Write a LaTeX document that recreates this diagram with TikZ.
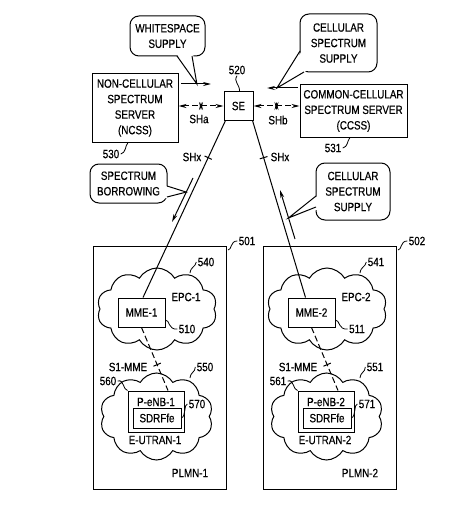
\documentclass[tikz,border=0pt]{standalone}
\usepackage{fontspec}
\setmainfont{Liberation Sans}[FakeStretch=0.82,FakeBold=0.5]
\usetikzlibrary{shapes.symbols,arrows.meta,decorations.markings}

\begin{document}
\begin{tikzpicture}[x=1pt, y=-1pt, line width=1pt,
        font=\fontsize{12}{15.5}\selectfont,
        box/.style={draw, align=center, inner sep=2pt},
        bubble/.style={draw, rounded corners=9pt, align=center},
        puff/.style={draw, cloud, cloud puffs=10, cloud puff arc=120, cloud ignores aspect},
        tag/.style={inner sep=1pt},
        lead/.style={line width=0.8pt},
        arr/.style={-{Stealth[length=8pt,width=4pt]}},
        twoarr/.style={{Stealth[length=8pt,width=4pt]}-{Stealth[length=8pt,width=4pt]}},
        dsh/.style={dash pattern=on 6pt off 3pt},
        crossed/.style={postaction={decorate, decoration={markings,
            mark=at position #1 with {\draw[solid] (0,-4pt) -- (0,4pt);}}}}]
    \useasboundingbox (0,0) rectangle (474,532);

    \node[box, minimum width=29pt, minimum height=28pt] (se) at (238.5,106) {SE};
    \node[tag] (n520) at (237,70) {520};
    \draw[lead] (n520.south) .. controls (233,82) and (240,84) .. ([xshift=1pt]se.north);
    \node[box, minimum width=86pt, minimum height=68pt] (ncss) at (135,108)
        {NON-CELLULAR\\SPECTRUM\\SERVER\\(NCSS)};
    \node[tag] (n530) at (111,154) {530};
    \draw[lead] (n530.east) .. controls (126,153) and (125,146) .. ([xshift=-7pt]ncss.south);
    \node[box, minimum width=107pt, minimum height=52pt] (ccss) at (353.5,111)
        {COMMON-CELLULAR\\SPECTRUM SERVER\\(CCSS)};
    \node[tag] (n531) at (333,148) {531};
    \draw[lead] (n531.east) .. controls (348,147) and (347,141) .. ([xshift=-3.5pt]ccss.south);

    \draw[twoarr, dsh, crossed=0.5] (ncss.east |- se.west) -- (se.west);
    \node[tag] (sha) at (199,119) {SHa};
    \draw[twoarr, dsh, crossed=0.5] (se.east) -- (se.east -| ccss.west);
    \node[tag] (shb) at (278,120) {SHb};

    \node[bubble, minimum width=75pt, minimum height=40pt] (wsbub) at (167.5,36) {WHITESPACE\\SUPPLY};
    \coordinate (wsa) at (181,84);
    \coordinate (wsb) at (211,84);
    \draw[arr] (wsa) -- (wsb) coordinate[pos=0.53] (wstip);
    \fill[white] (176,53) -- (wstip) -- (193,53) -- cycle;
    \draw (177,56) -- (wstip) -- (192,56);

    \node[bubble, minimum width=77pt, minimum height=58pt] (csbub) at (338.5,43) {CELLULAR\\SPECTRUM\\SUPPLY};
    \coordinate (csa) at (298,88);
    \coordinate (csb) at (267,88);
    \draw[arr] (csa) -- (csb) coordinate[pos=0.68] (cstip);
    \fill[white] (304,48) -- (cstip) -- (308,70) -- cycle;
    \draw (300,51) -- (cstip) -- (304,72);

    \node[bubble, minimum width=77pt, minimum height=39pt] (sbbub) at (128.5,183.5) {SPECTRUM\\BORROWING};
    \coordinate (sba) at (193,178);
    \coordinate (sbb) at (172,222);
    \draw[arr] (sba) -- (sbb) coordinate[pos=0.32] (sbtip);
    \fill[white] (163,185) -- (sbtip) -- (163,199) -- cycle;
    \draw (167,186) -- (sbtip) -- (167,197);

    \node[bubble, minimum width=74pt, minimum height=57pt] (cs2bub) at (353,191.5) {CELLULAR\\SPECTRUM\\SUPPLY};
    \coordinate (csc) at (295,239);
    \coordinate (csd) at (280,190);
    \draw[arr] (csc) -- (csd) coordinate[pos=0.43] (cs2tip);
    \fill[white] (320,194) -- (cs2tip) -- (320,209) -- cycle;
    \draw (316,196) -- (cs2tip) -- (316,207);

    \node[draw, minimum width=133pt, minimum height=243pt] (plmn1) at (159.5,367.5) {};
    \node[tag] (n501) at (247,241) {501};
    \draw[lead] (228,250) .. controls (232,250) and (230,241) .. (n501.west);
    \node[puff, minimum width=120pt, minimum height=82pt] (epc1) at (157,309) {};
    \node[tag] (epc1lbl) at (186,297) {EPC-1};
    \node[tag] (n540) at (206,262) {540};
    \draw[lead] (190,273) .. controls (191,266) and (195,268) .. (n540.west);
    \node[box, fill=white, minimum width=47pt, minimum height=29pt] (mme1) at (141.5,312.5) {MME-1};
    \node[tag] (n510) at (187,329) {510};
    \draw[lead] ([yshift=-7.5pt]mme1.east) .. controls (170,320) and (168,330) .. (n510.west);
    \node[puff, minimum width=113pt, minimum height=87pt] (eutran1) at (156.5,416.5) {};
    \node[tag] (n550) at (205,367) {550};
    \draw[lead] (190,378) .. controls (191,371) and (195,373) .. (n550.west);
    \node[draw, fill=white, minimum width=56pt, minimum height=41pt] (penb1) at (156,411.5) {};
    \node[tag] (penb1lbl) at (156,402) {P-eNB-1};
    \node[box, minimum width=48pt, minimum height=20pt] (sdr1) at (157,418) {SDRFfe};
    \node[tag] (n560) at (108,381) {560};
    \draw[lead] (n560.east) .. controls (124,379) and (123,390) .. (penb1.north west);
    \node[tag] (n570) at (197,404) {570};
    \draw[lead] (n570.west) .. controls (184,404) and (186,416) .. (sdr1.east);
    \draw[dsh, crossed=0.59] (mme1.south) -- ([xshift=12pt]penb1.north);
    \node[tag] (s1mme1) at (128,367) {S1-MME};
    \node[tag] (eutran1lbl) at (155,440) {E-UTRAN-1};
    \node[tag] (plmn1lbl) at (190,473) {PLMN-1};

    \node[draw, minimum width=133pt, minimum height=243pt] (plmn2) at (329.5,367.5) {};
    \node[tag] (n502) at (417,241) {502};
    \draw[lead] (398,250) .. controls (402,250) and (400,241) .. (n502.west);
    \node[puff, minimum width=120pt, minimum height=82pt] (epc2) at (327,309) {};
    \node[tag] (epc2lbl) at (356,297) {EPC-2};
    \node[tag] (n541) at (376,262) {541};
    \draw[lead] (360,273) .. controls (361,266) and (365,268) .. (n541.west);
    \node[box, fill=white, minimum width=47pt, minimum height=29pt] (mme2) at (311.5,312.5) {MME-2};
    \node[tag] (n511) at (357,329) {511};
    \draw[lead] ([yshift=-7.5pt]mme2.east) .. controls (340,320) and (338,330) .. (n511.west);
    \node[puff, minimum width=113pt, minimum height=87pt] (eutran2) at (326.5,416.5) {};
    \node[tag] (n551) at (375,367) {551};
    \draw[lead] (360,378) .. controls (361,371) and (365,373) .. (n551.west);
    \node[draw, fill=white, minimum width=56pt, minimum height=41pt] (penb2) at (326,411.5) {};
    \node[tag] (penb2lbl) at (326,402) {P-eNB-2};
    \node[box, minimum width=48pt, minimum height=20pt] (sdr2) at (327,418) {SDRFfe};
    \node[tag] (n561) at (278,381) {561};
    \draw[lead] (n561.east) .. controls (294,379) and (293,390) .. (penb2.north west);
    \node[tag] (n571) at (367,404) {571};
    \draw[lead] (n571.west) .. controls (354,404) and (356,416) .. (sdr2.east);
    \draw[dsh, crossed=0.59] (mme2.south) -- ([xshift=12pt]penb2.north);
    \node[tag] (s1mme2) at (298,367) {S1-MME};
    \node[tag] (eutran2lbl) at (325,440) {E-UTRAN-2};
    \node[tag] (plmn2lbl) at (360,473) {PLMN-2};

    \draw[crossed=0.21] ([xshift=2pt]se.south west) -- ([xshift=1.5pt]mme1.north);
    \node[tag] (shx1) at (192,157) {SHx};
    \draw[crossed=0.21] ([xshift=-1pt]se.south east) -- ([xshift=-6pt]mme2.north);
    \node[tag] (shx2) at (280,157) {SHx};
\end{tikzpicture}
\end{document}
